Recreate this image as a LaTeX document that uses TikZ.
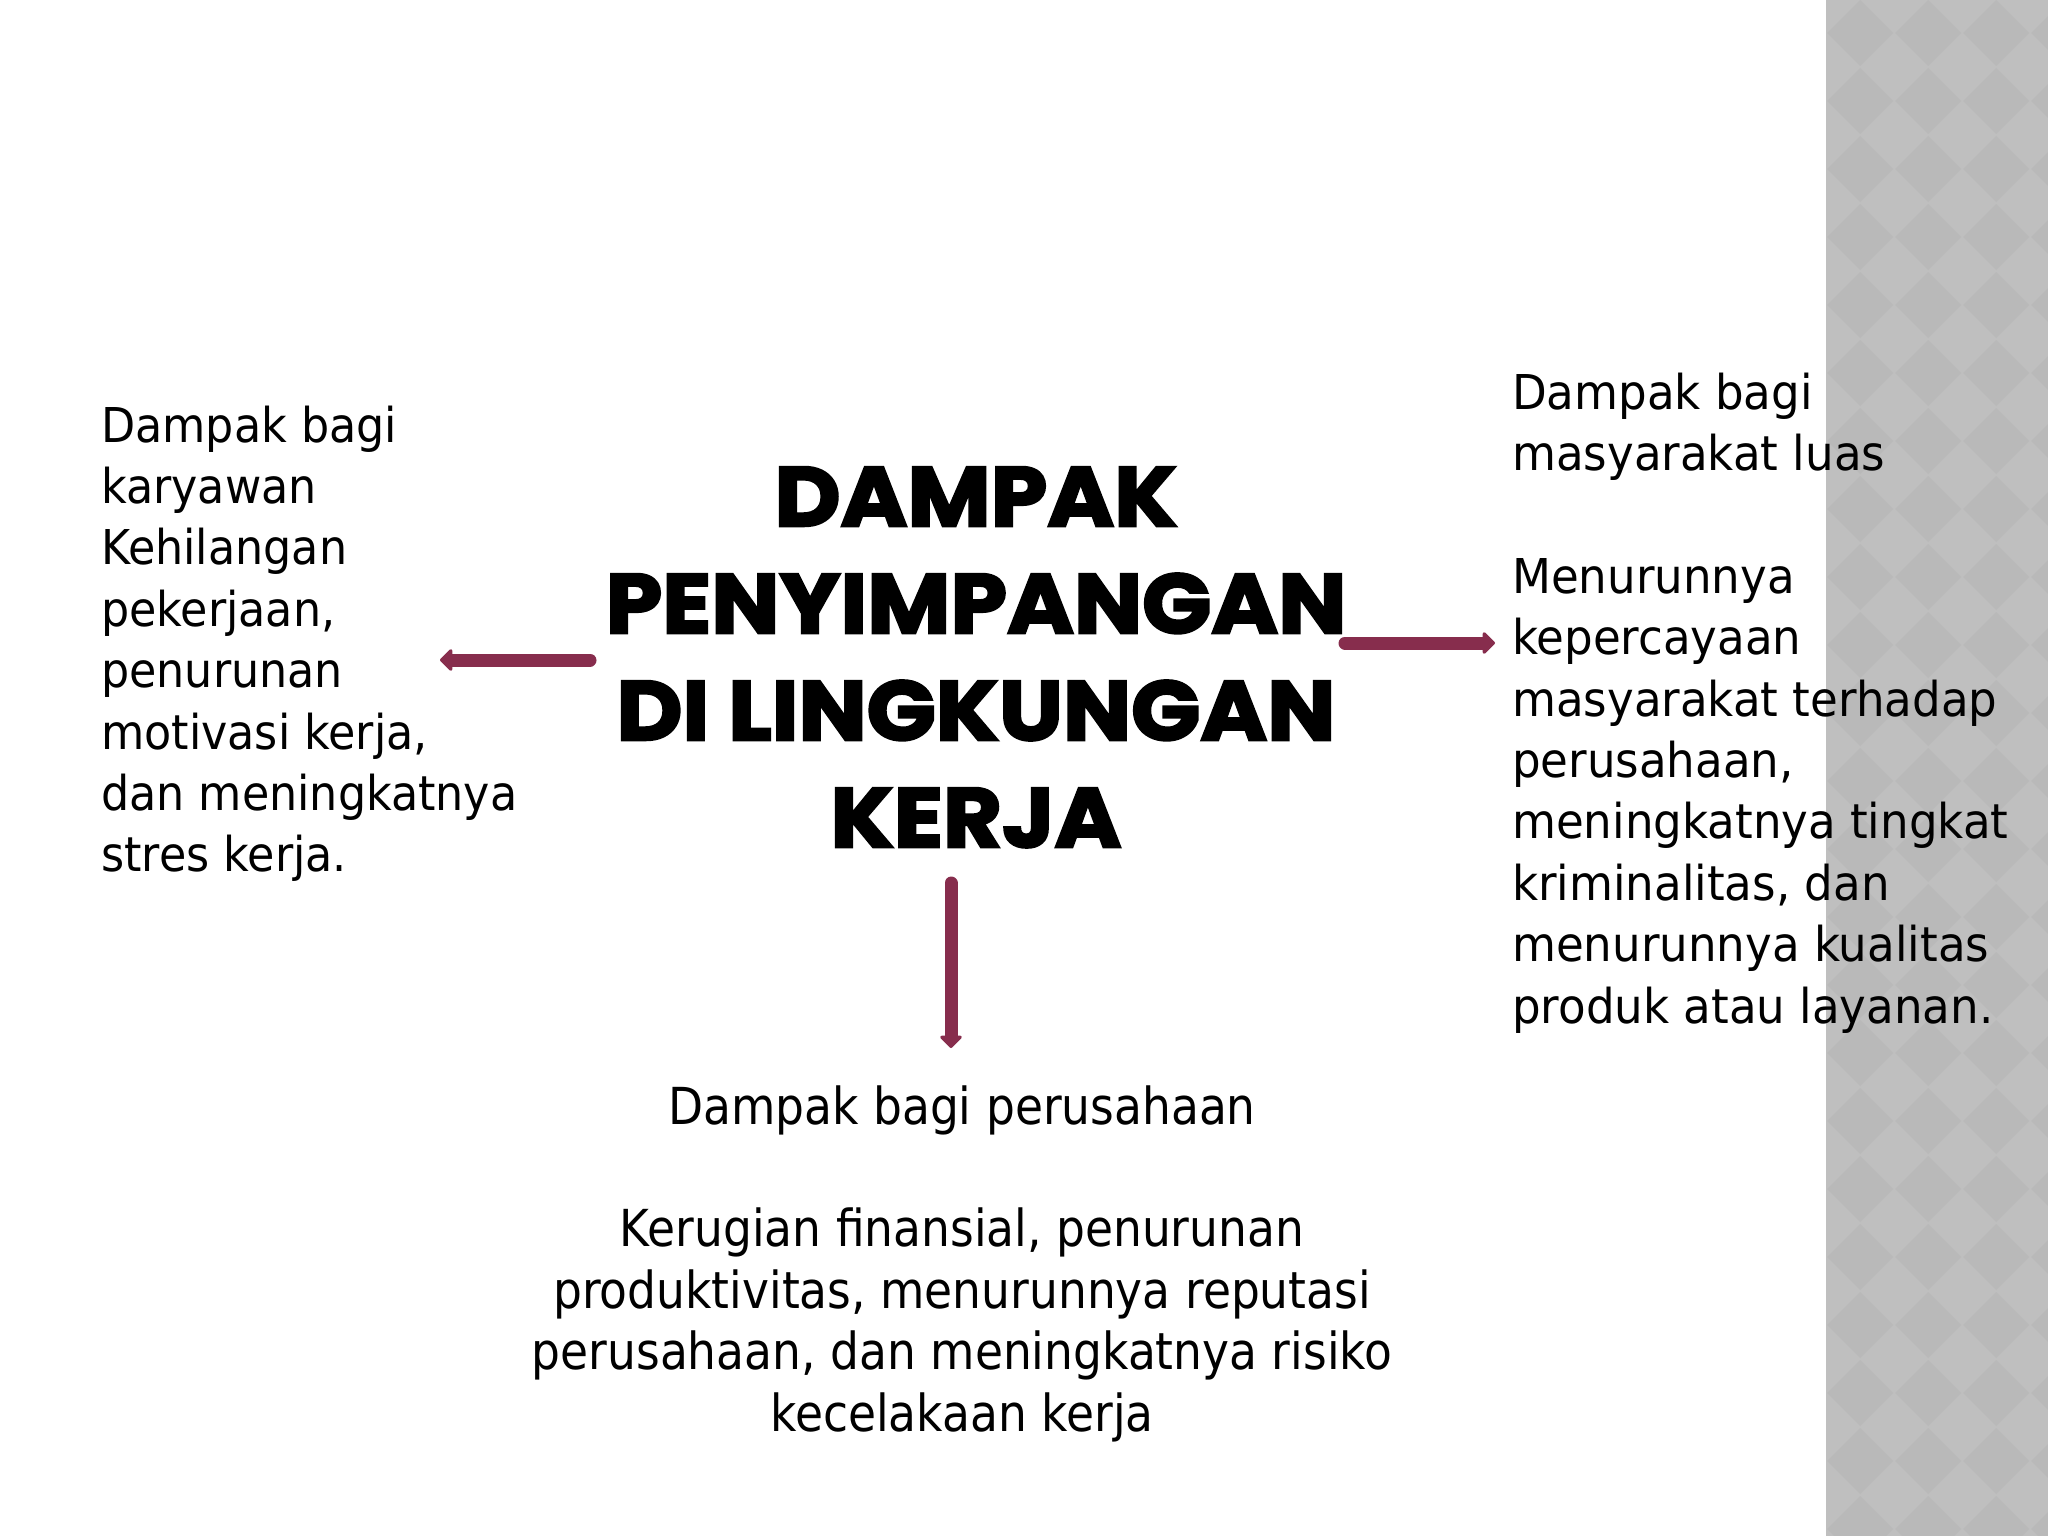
\documentclass[tikz,border=0pt]{standalone}
\usepackage{fontspec}
\usetikzlibrary{arrows.meta}
\newfontfamily\bodyfont[FakeStretch=0.925]{DejaVu Sans}
\newfontfamily\rightfont[FakeStretch=0.94]{DejaVu Sans}
\newfontfamily\bottomfont[FakeStretch=0.893]{DejaVu Sans}
\newfontfamily\titlefont[FakeStretch=1.08,BoldFeatures={FakeBold=3}]{Poppins}
\definecolor{arrowc}{RGB}{135,45,77}
\definecolor{panellight}{RGB}{191,191,191}
\definecolor{paneldark}{RGB}{185,185,185}
\newcommand\leftlines[1]{\vtop{\baselineskip=61.4pt\lineskiplimit=-200pt\halign{##\hfil\cr#1\crcr}}}
\newcommand\centerlines[2]{\vtop{\baselineskip=#1\lineskiplimit=-200pt\halign{\hfil##\hfil\cr#2\crcr}}}
\tikzset{
  conn/.style={draw=arrowc, line width=13pt, line cap=round,
    -{Triangle[width=25pt,length=13pt,line width=3pt,round]}},
  bodytext/.style={inner sep=0pt, font=\bodyfont\fontsize{48pt}{61.4pt}\selectfont, text=black},
  righttext/.style={inner sep=0pt, font=\rightfont\fontsize{48pt}{61.4pt}\selectfont, text=black},
  bottomtext/.style={inner sep=0pt, font=\bottomfont\fontsize{51pt}{61.4pt}\selectfont, text=black},
  titletext/.style={inner sep=0pt, font=\titlefont\bfseries\fontsize{84pt}{107pt}\selectfont, text=black}
}
\begin{document}
\begin{tikzpicture}[x=1pt,y=-1pt]
\useasboundingbox (0,0) rectangle (2048,1536);
\fill[white] (0,0) rectangle (2048,1536);
% patterned side panel
\fill[panellight] (1826,0) rectangle (2048,1536);
\begin{scope}
  \clip (1826,0) rectangle (2048,1536);
  \foreach \i in {-1,...,4}{
    \foreach \j in {-1,...,23}{
      \fill[paneldark] ({1860+68*\i},{33+68*\j}) +(-33,0) -- +(0,-33) -- +(33,0) -- +(0,33) -- cycle;
    }
  }
\end{scope}
% title
\node[titletext, anchor=base] (title) at (976,526)
  {\centerlines{107pt}{DAMPAK\cr PENYIMPANGAN\cr DI LINGKUNGAN\cr KERJA}};
% left text
\node[bodytext, anchor=base west] (karyawan) at (101,442)
  {\leftlines{Dampak bagi\cr karyawan\cr Kehilangan\cr pekerjaan,\cr penurunan\cr motivasi kerja,\cr dan meningkatnya\cr stres kerja.}};
% right text
\node[righttext, anchor=base west] (masyarakat) at (1512,409)
  {\leftlines{Dampak bagi\cr masyarakat luas\cr \cr Menurunnya\cr kepercayaan\cr masyarakat terhadap\cr perusahaan,\cr meningkatnya tingkat\cr kriminalitas, dan\cr menurunnya kualitas\cr produk atau layanan.}};
% bottom text
\node[bottomtext, anchor=base] (perusahaan) at (962,1124)
  {\centerlines{61.4pt}{Dampak bagi perusahaan\cr \cr Kerugian finansial, penurunan\cr produktivitas, menurunnya reputasi\cr perusahaan, dan meningkatnya risiko\cr kecelakaan kerja}};
% connectors
\coordinate (lstart) at (590,660);
\coordinate (lend) at (440,660);
\coordinate (rstart) at (1345,643);
\coordinate (rend) at (1495,643);
\coordinate (dstart) at (951,883);
\coordinate (dend) at (951,1048);
\draw[conn] (lstart) -- (lend);
\draw[conn] (rstart) -- (rend);
\draw[conn] (dstart) -- (dend);
\end{tikzpicture}
\end{document}
